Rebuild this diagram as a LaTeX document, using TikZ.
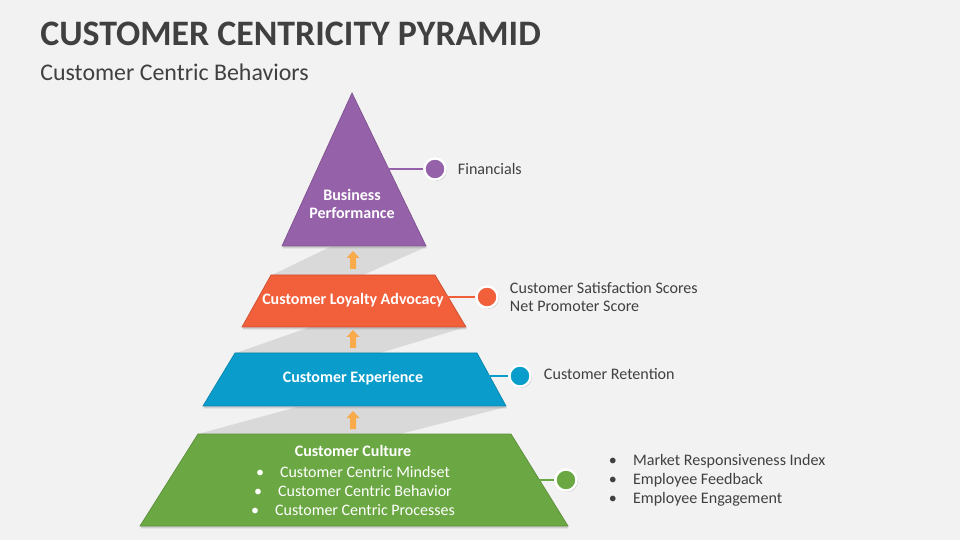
\documentclass[tikz,border=0pt]{standalone}
\usepackage{fontspec}
\setmainfont{Carlito}
\usetikzlibrary{positioning,shadows}

\definecolor{bgGray}{HTML}{F2F2F2}
\definecolor{bandGray}{HTML}{D9D9D9}
\definecolor{textGray}{HTML}{404040}
\definecolor{bpPurple}{HTML}{9561A8}
\definecolor{loyOrange}{HTML}{F15F3B}
\definecolor{expBlue}{HTML}{0A9CCB}
\definecolor{culGreen}{HTML}{6BA843}
\definecolor{arrOrange}{HTML}{F9AA4B}

\tikzset{
  tier/.style={fill=#1, draw=#1!85!black, line width=0.4pt,
    drop shadow={shadow xshift=0.3pt, shadow yshift=-1.3pt, opacity=0.3}},
  band/.style={fill=bandGray},
  dot/.style={circle, fill=#1, draw=white, line width=1.3pt, minimum size=0.42cm,
    inner sep=0pt, drop shadow={shadow xshift=0.8pt, shadow yshift=-0.8pt, opacity=0.3}},
  link/.style={draw=#1, line width=1.7pt},
  note/.style={anchor=west, text=textGray, align=left, inner sep=0pt,
    font=\fontsize{9.15}{10.8}\selectfont},
  tierText/.style={text=white, align=center, inner sep=0pt,
    font=\bfseries\fontsize{9.1}{10.3}\selectfont},
  upArrow/.pic={
    \fill[arrOrange] (-3,0) -- (-3,-11) -- (-6.5,-11) -- (0,-18) -- (6.5,-11)
      -- (3,-11) -- (3,0) -- cycle;
  }
}

\begin{document}
\begin{tikzpicture}[x=0.02cm, y=-0.02cm]
  % Background
  \fill[bgGray] (0,0) rectangle (960,540);
  \useasboundingbox (0,0) rectangle (960,540);

  % Title
  \node[anchor=base west, inner sep=0pt, text=textGray,
    font=\bfseries\fontsize{20.4}{24}\selectfont] (title) at (40,46)
    {CUSTOMER CENTRICITY PYRAMID};
  \node[anchor=base west, inner sep=0pt, text=textGray,
    font=\fontsize{13.6}{16}\selectfont] (subtitle) at (40,81)
    {Customer Centric Behaviors};

  % Gray bands between tiers
  \fill[band] (330,247) -- (426,247) -- (363,275) -- (272,275) -- cycle;
  \fill[band] (310,327) -- (466,327) -- (380,353) -- (236,353) -- cycle;
  \fill[band] (297,407) -- (506,407) -- (400,434) -- (198,434) -- cycle;

  % Tiers
  \path[tier=bpPurple] (352,93) -- (426,246) -- (282,246) -- cycle;
  \path[tier=loyOrange] (271,275) -- (435,275) -- (466,327) -- (242,327) -- cycle;
  \path[tier=expBlue] (235,353) -- (477,353) -- (506,406) -- (203,406) -- cycle;
  \path[tier=culGreen] (198,434) -- (511,434) -- (568,526) -- (140,526) -- cycle;

  % Up arrows
  \pic at (353,269) {upArrow};
  \pic at (353,348) {upArrow};
  \pic at (353,429) {upArrow};

  % Tier texts
  \node[tierText] (bpText) at (352,204) {Business\\Performance};
  \node[tierText] (loyText) at (353,300) {Customer Loyalty Advocacy};
  \node[tierText] (expText) at (353,378) {Customer Experience};
  \node[tierText] (culText) at (353,451) {Customer Culture};
  \node[tierText, font=\fontsize{9.1}{10.8}\selectfont, below=0.18cm of culText] (culList)
    {\textbullet\hspace{1.0em}Customer Centric Mindset\\
     \textbullet\hspace{1.0em}Customer Centric Behavior\\
     \textbullet\hspace{1.0em}Customer Centric Processes};

  % Edge points on the tiers
  \coordinate (bpEdge) at (388,169);
  \coordinate (loyEdge) at (447,297);
  \coordinate (expEdge) at (489,376);
  \coordinate (culEdge) at (539,480);

  % Dots
  \node[dot=bpPurple] (bpDot) at (435,169) {};
  \node[dot=loyOrange] (loyDot) at (487,297) {};
  \node[dot=expBlue] (expDot) at (520,376) {};
  \node[dot=culGreen] (culDot) at (566,480) {};

  % Links
  \draw[link=bpPurple] (bpEdge) -- (bpDot);
  \draw[link=loyOrange] (loyEdge) -- (loyDot);
  \draw[link=expBlue] (expEdge) -- (expDot);
  \draw[link=culGreen] (culEdge) -- (culDot);

  % Notes
  \node[note, right=0.22cm of bpDot] (bpNote) {Financials};
  \node[note, right=0.22cm of loyDot] (loyNote)
    {Customer Satisfaction Scores\\Net Promoter Score};
  \node[note, right=0.24cm of expDot, yshift=0.04cm] (expNote) {Customer Retention};
  \node[note, right=0.62cm of culDot] (culNote)
    {\textbullet\hspace{1.0em}Market Responsiveness Index\\
     \textbullet\hspace{1.0em}Employee Feedback\\
     \textbullet\hspace{1.0em}Employee Engagement};
\end{tikzpicture}
\end{document}
